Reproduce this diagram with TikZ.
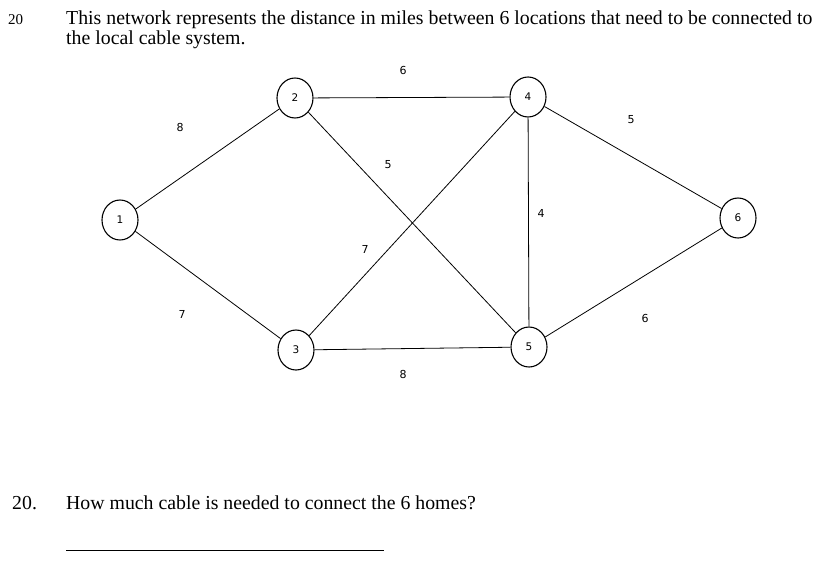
\documentclass[tikz,border=0pt]{standalone}
\usepackage{fontspec}
\setmainfont{Liberation Serif}
\newfontfamily\lblfont{DejaVu Sans}
\usetikzlibrary{shapes.geometric}
\begin{document}
\begin{tikzpicture}[x=1pt,y=-1pt,
  vert/.style={draw,line width=1.1pt,ellipse,minimum width=36,minimum height=40,inner sep=0pt,font=\lblfont\fontsize{10.5}{12}\selectfont},
  edge/.style={draw,line width=0.8pt},
  wt/.style={font=\lblfont\fontsize{11}{12}\selectfont},
  txt/.style={anchor=west,inner sep=0pt,font=\fontsize{19.8}{22}\selectfont}]
\useasboundingbox (0,0) rectangle (834,588);
\node[vert] (n1) at (120,220) {1};
\node[vert] (n2) at (295,98) {2};
\node[vert] (n3) at (296,350) {3};
\node[vert] (n4) at (528,97) {4};
\node[vert] (n5) at (529,347) {5};
\node[vert] (n6) at (738,218) {6};
\draw[edge] (n1) -- (n2);
\draw[edge] (n1) -- (n3);
\draw[edge] (n2) -- (n4);
\draw[edge] (n2) -- (n5);
\draw[edge] (n3) -- (n4);
\draw[edge] (n3) -- (n5);
\draw[edge] (n4) -- (n5);
\draw[edge] (n4) -- (n6);
\draw[edge] (n5) -- (n6);
\node[wt] (w1) at (180,127) {8};
\node[wt] (w2) at (182,314) {7};
\node[wt] (w3) at (403,70) {6};
\node[wt] (w4) at (388,165) {5};
\node[wt] (w5) at (365,249) {7};
\node[wt] (w6) at (541,213) {4};
\node[wt] (w7) at (631,120) {5};
\node[wt] (w8) at (645,318) {6};
\node[wt] (w9) at (403,374) {8};
\node[anchor=west,inner sep=0pt,font=\fontsize{15}{17}\selectfont] (q1) at (8,20) {20};
\node[txt] (t1) at (66,20) {This network represents the distance in miles between 6 locations that need to be connected to};
\node[txt] (t2) at (66,40) {the local cable system.};
\node[txt] (q2) at (12,503) {20.};
\node[txt] (t3) at (66,503) {How much cable is needed to connect the 6 homes?};
\coordinate (la) at (66,550);
\coordinate (lb) at (384,550);
\draw[line width=1pt] (la) -- (lb);
\end{tikzpicture}
\end{document}
